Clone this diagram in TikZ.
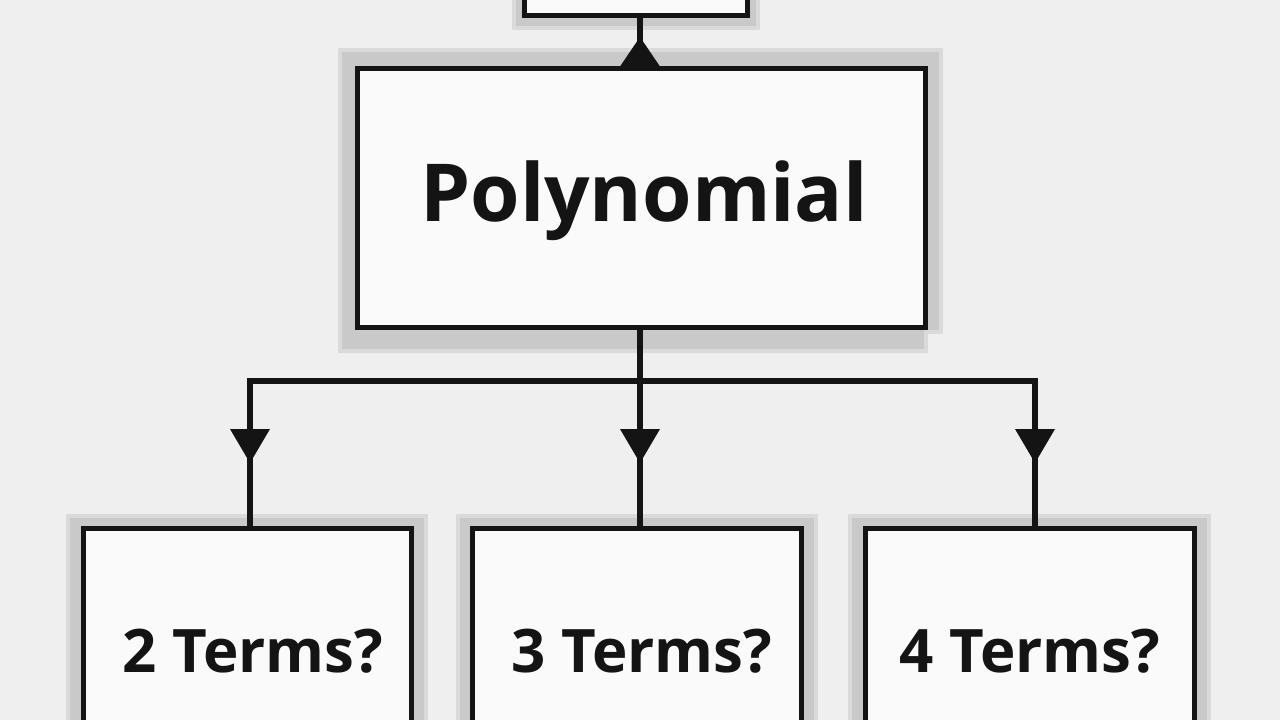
\documentclass[tikz,border=0pt]{standalone}
\usepackage{fontspec}
\setmainfont{Open Sans}
\definecolor{bg}{HTML}{EFEFEF}
\definecolor{ink}{HTML}{141414}
\definecolor{shade}{HTML}{C9C9C9}
\definecolor{shadelight}{HTML}{DADADA}
\definecolor{boxfill}{HTML}{FAFAFA}
\begin{document}
\begin{tikzpicture}[x=1pt,y=-1pt,
  box/.style={draw=ink, line width=5pt, fill=boxfill, inner sep=0pt, outer sep=0pt},
  lbl/.style={text=ink, anchor=base, inner sep=0pt},
  wire/.style={draw=ink, line width=6pt},
  head/.style={fill=ink},
  shadowA/.style={fill=shadelight},
  shadowB/.style={fill=shade}
]
\path[use as bounding box] (0,0) rectangle (1280,720);
\clip (0,0) rectangle (1280,720);
\fill[bg] (0,0) rectangle (1280,720);

% shadows
\fill[shadowA] (512,-40) rectangle (760,30);
\fill[shadowB] (516,-40) rectangle (756,26);
\fill[shadowA] (338,48) rectangle (943,334);
\fill[shadowA] (338,300) rectangle (928,353);
\fill[shadowB] (342,52) rectangle (939,330);
\fill[shadowB] (342,300) rectangle (924,349);
\fill[shadowA] (66,514) rectangle (428,740);
\fill[shadowB] (70,518) rectangle (424,740);
\fill[shadowA] (456,514) rectangle (818,740);
\fill[shadowB] (460,518) rectangle (814,740);
\fill[shadowA] (848,514) rectangle (1211,740);
\fill[shadowB] (852,518) rectangle (1207,740);

% boxes
\node[box, minimum width=223pt, minimum height=80pt] (top) at (636,-24.5) {};
\node[box, minimum width=568pt, minimum height=259pt] (poly) at (641.5,198) {};
\node[box, minimum width=328pt, minimum height=260pt] (b2) at (247.5,658) {};
\node[box, minimum width=329pt, minimum height=260pt] (b3) at (637,658) {};
\node[box, minimum width=329pt, minimum height=260pt] (b4) at (1030,658) {};

% labels
\node[lbl, font=\fontsize{80}{86}\selectfont\bfseries] (tpoly) at (644,221) {Polynomial};
\node[lbl, font=\fontsize{60}{66}\selectfont\bfseries] (t2) at (253,672) {2 Terms?};
\node[lbl, font=\fontsize{60}{66}\selectfont\bfseries] (t3) at (642,672) {3 Terms?};
\node[lbl, font=\fontsize{60}{66}\selectfont\bfseries] (t4) at (1030,672) {4 Terms?};

% junction coordinates
\coordinate (jm) at (640,381);
\coordinate (jl) at (250,381);
\coordinate (jr) at (1035,381);
\coordinate (pb) at (640,328);
\coordinate (pt) at (640,68);
\coordinate (ts) at (640,16);
\coordinate (e2) at (250,527);
\coordinate (e3) at (640,527);
\coordinate (e4) at (1035,527);

% connectors
\draw[wire] (ts) -- (pt);
\fill[head] (pt) ++(-21,0) -- ++(21,-31) -- ++(21,31) -- cycle;
\draw[wire] (pb) -- (jm);
\draw[wire, line cap=rect] (jl) -- (jr);
\draw[wire] (jl) -- (e2);
\draw[wire] (jm) -- (e3);
\draw[wire] (jr) -- (e4);
\fill[head] (jl) ++(-20,48) -- ++(40,0) -- ++(-20,34) -- cycle;
\fill[head] (jm) ++(-20,48) -- ++(40,0) -- ++(-20,34) -- cycle;
\fill[head] (jr) ++(-20,48) -- ++(40,0) -- ++(-20,34) -- cycle;
\end{tikzpicture}
\end{document}
